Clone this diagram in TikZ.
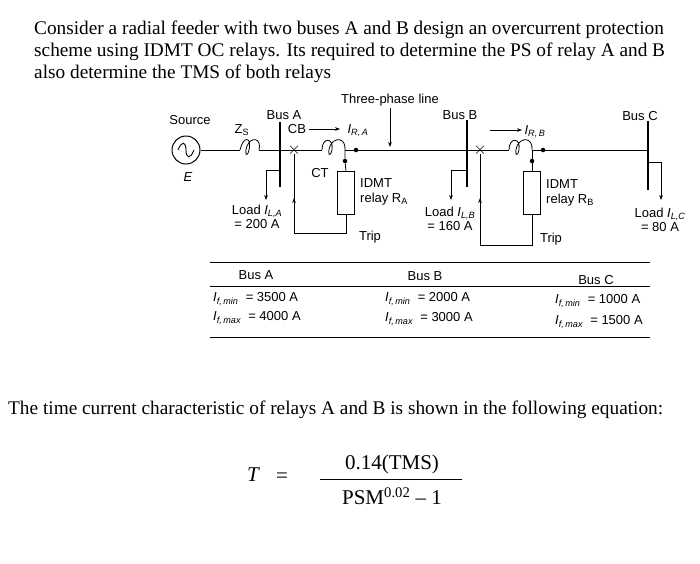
\documentclass[tikz,border=0pt]{standalone}
\usepackage{fontspec}
\setmainfont{Liberation Serif}
\newfontfamily\dfont{Liberation Sans}
\usetikzlibrary{arrows.meta}
\begin{document}
\begin{tikzpicture}[x=1pt,y=-1pt,
  lbl/.style={font=\dfont\fontsize{13}{14.5}\selectfont,inner sep=0pt},
  txt/.style={font=\fontsize{19.3}{21}\selectfont,inner sep=0pt,anchor=west},
  eq/.style={font=\fontsize{21}{23}\selectfont,inner sep=0pt},
  wire/.style={line width=0.8pt},
  bus/.style={line width=2.4pt},
  arr/.style={line width=0.8pt,-{Stealth[length=5pt]}},
  dot/.style={circle,fill,inner sep=1.6pt}]
\useasboundingbox (0,0) rectangle (700,563);
% problem text
\node[txt] (t1) at (34,30) {Consider a radial feeder with two buses A and B design an overcurrent protection};
\node[txt] (t2) at (34,52) {scheme using IDMT OC relays. Its required to determine the PS of relay A and B};
\node[txt] (t3) at (34,74) {also determine the TMS of both relays};
% main line
\node[draw,circle,minimum size=28pt,inner sep=0pt,line width=1pt] (src) at (186,150) {};
\draw[line width=0.9pt] (178,150) .. controls (182,140) and (186,142) .. (186,150) .. controls (186,158) and (190,160) .. (194,150);
\coordinate (lend) at (648,150);
\draw[wire] (src.east) -- (240,150);
\draw[wire] (240,150) .. controls (243,136) and (252,136) .. (249,150) .. controls (247,158) and (244,155) .. (247,146) .. controls (251,136) and (262,138) .. (259,150);
\draw[wire] (259,150) -- (322,150);
\draw[wire] (322,150) .. controls (322,137) and (334,137) .. (332,150) .. controls (330,158) and (327,155) .. (330,146) .. controls (334,137) and (346,137) .. (345,150);
\draw[wire] (345,150) -- (509,150);
\draw[wire] (509,150) .. controls (509,137) and (521,137) .. (519,150) .. controls (517,158) and (514,155) .. (517,146) .. controls (521,137) and (533,137) .. (532,150);
\draw[wire] (532,150) -- (lend);
\node[lbl] (srcl) at (190,120) {Source};
\node[lbl] (el) at (188,177) {\itshape E};
\node[lbl] (zs) at (242,130) {Z\textsubscript{S}};
% buses
\draw[bus] (280,122) -- (280,187);
\draw[bus] (467,120) -- (467,187);
\draw[bus] (648,121) -- (648,190);
\node[lbl] (ba) at (284,115) {Bus A};
\node[lbl] (bb) at (460,115) {Bus B};
\node[lbl] (bc) at (640,116) {Bus C};
% breakers
\node[lbl,font=\fontsize{18}{18}\selectfont] (cba) at (294,150) {$\times$};
\node[lbl,font=\fontsize{18}{18}\selectfont] (cbb) at (480,150) {$\times$};
\node[lbl] (cbl) at (297,129) {CB};
\draw[arr] (309,129) -- (340,129);
\node[lbl] (ira) at (358,131) {\itshape I\textsubscript{R,\,A}};
\draw[arr] (490,130) -- (522,130);
\node[lbl] (irb) at (535,132) {\itshape I\textsubscript{R,\,B}};
\node[lbl] (ct) at (320,173) {CT};
% three-phase line
\node[lbl] (tpl) at (390,100) {Three-phase line};
\draw[arr] (390,108) -- (390,147);
% relay A
\node[dot] (da1) at (356,150) {};
\node[dot] (da2) at (345,161) {};
\node[draw,wire,minimum width=17pt,minimum height=43pt,inner sep=0pt] (ra) at (346,193) {};
\draw[wire] (345,150) -- (da2) -- (ra.north);
\draw[wire] (ra.south) -- (346,233) -- (294,233) -- (294,154);
\draw[arr] (294,233) -- (294,198);
\node[lbl,align=left,anchor=west] (ral) at (360,192) {IDMT\\relay R\textsubscript{A}};
\node[lbl] (tra) at (370,237) {Trip};
% relay B
\node[dot] (db1) at (543,150) {};
\node[dot] (db2) at (532,161) {};
\node[draw,wire,minimum width=17pt,minimum height=43pt,inner sep=0pt] (rb) at (532,193) {};
\draw[wire] (532,150) -- (db2) -- (rb.north);
\draw[wire] (rb.south) -- (532,245) -- (480,245) -- (480,154);
\draw[arr] (480,245) -- (480,198);
\node[lbl,align=left,anchor=west] (rbl) at (546,193) {IDMT\\relay R\textsubscript{B}};
\node[lbl] (trb) at (551,239) {Trip};
% loads
\draw[arr] (280,170) -- (266,170) -- (266,200);
\node[lbl,align=center] (la) at (257,217) {Load \itshape I\textsubscript{L,A}\\= 200 A};
\draw[arr] (467,170) -- (451,170) -- (451,200);
\node[lbl,align=center] (lb) at (450,219) {Load \itshape I\textsubscript{L,B}\\= 160 A};
\draw[arr] (648,162) -- (661,162) -- (661,200);
\node[lbl,align=center] (lc) at (660,220) {Load \itshape I\textsubscript{L,C}\\= 80 A};
% table
\draw[line width=1pt] (210,262) -- (650,262);
\draw[line width=1pt] (210,286) -- (650,286);
\draw[line width=1pt] (210,337) -- (650,337);
\node[lbl] (ha) at (256,275) {Bus A};
\node[lbl] (hb) at (425,276) {Bus B};
\node[lbl] (hc) at (596,280) {Bus C};
\node[lbl,anchor=west] (a1) at (213,299) {\itshape I\textsubscript{f,\,min}\upshape\ \ = 3500 A};
\node[lbl,anchor=west] (a2) at (213,318) {\itshape I\textsubscript{f,\,max}\upshape\ \ = 4000 A};
\node[lbl,anchor=west] (b1) at (385,299) {\itshape I\textsubscript{f,\,min}\upshape\ \ = 2000 A};
\node[lbl,anchor=west] (b2) at (385,319) {\itshape I\textsubscript{f,\,max}\upshape\ \ = 3000 A};
\node[lbl,anchor=west] (c1) at (555,301) {\itshape I\textsubscript{f,\,min}\upshape\ \ = 1000 A};
\node[lbl,anchor=west] (c2) at (555,322) {\itshape I\textsubscript{f,\,max}\upshape\ \ = 1500 A};
% equation text
\node[txt] (t4) at (8,410) {The time current characteristic of relays A and B is shown in the following equation:};
\node[eq] (eqT) at (253,475) {\itshape T};
\node[eq] (eqeq) at (282,478) {=};
\node[eq] (num) at (392,464) {0.14(TMS)};
\node[eq] (den) at (392,496) {PSM\textsuperscript{0.02} -- 1};
\draw[line width=0.8pt] (320,479) -- (462,479);
\end{tikzpicture}
\end{document}
